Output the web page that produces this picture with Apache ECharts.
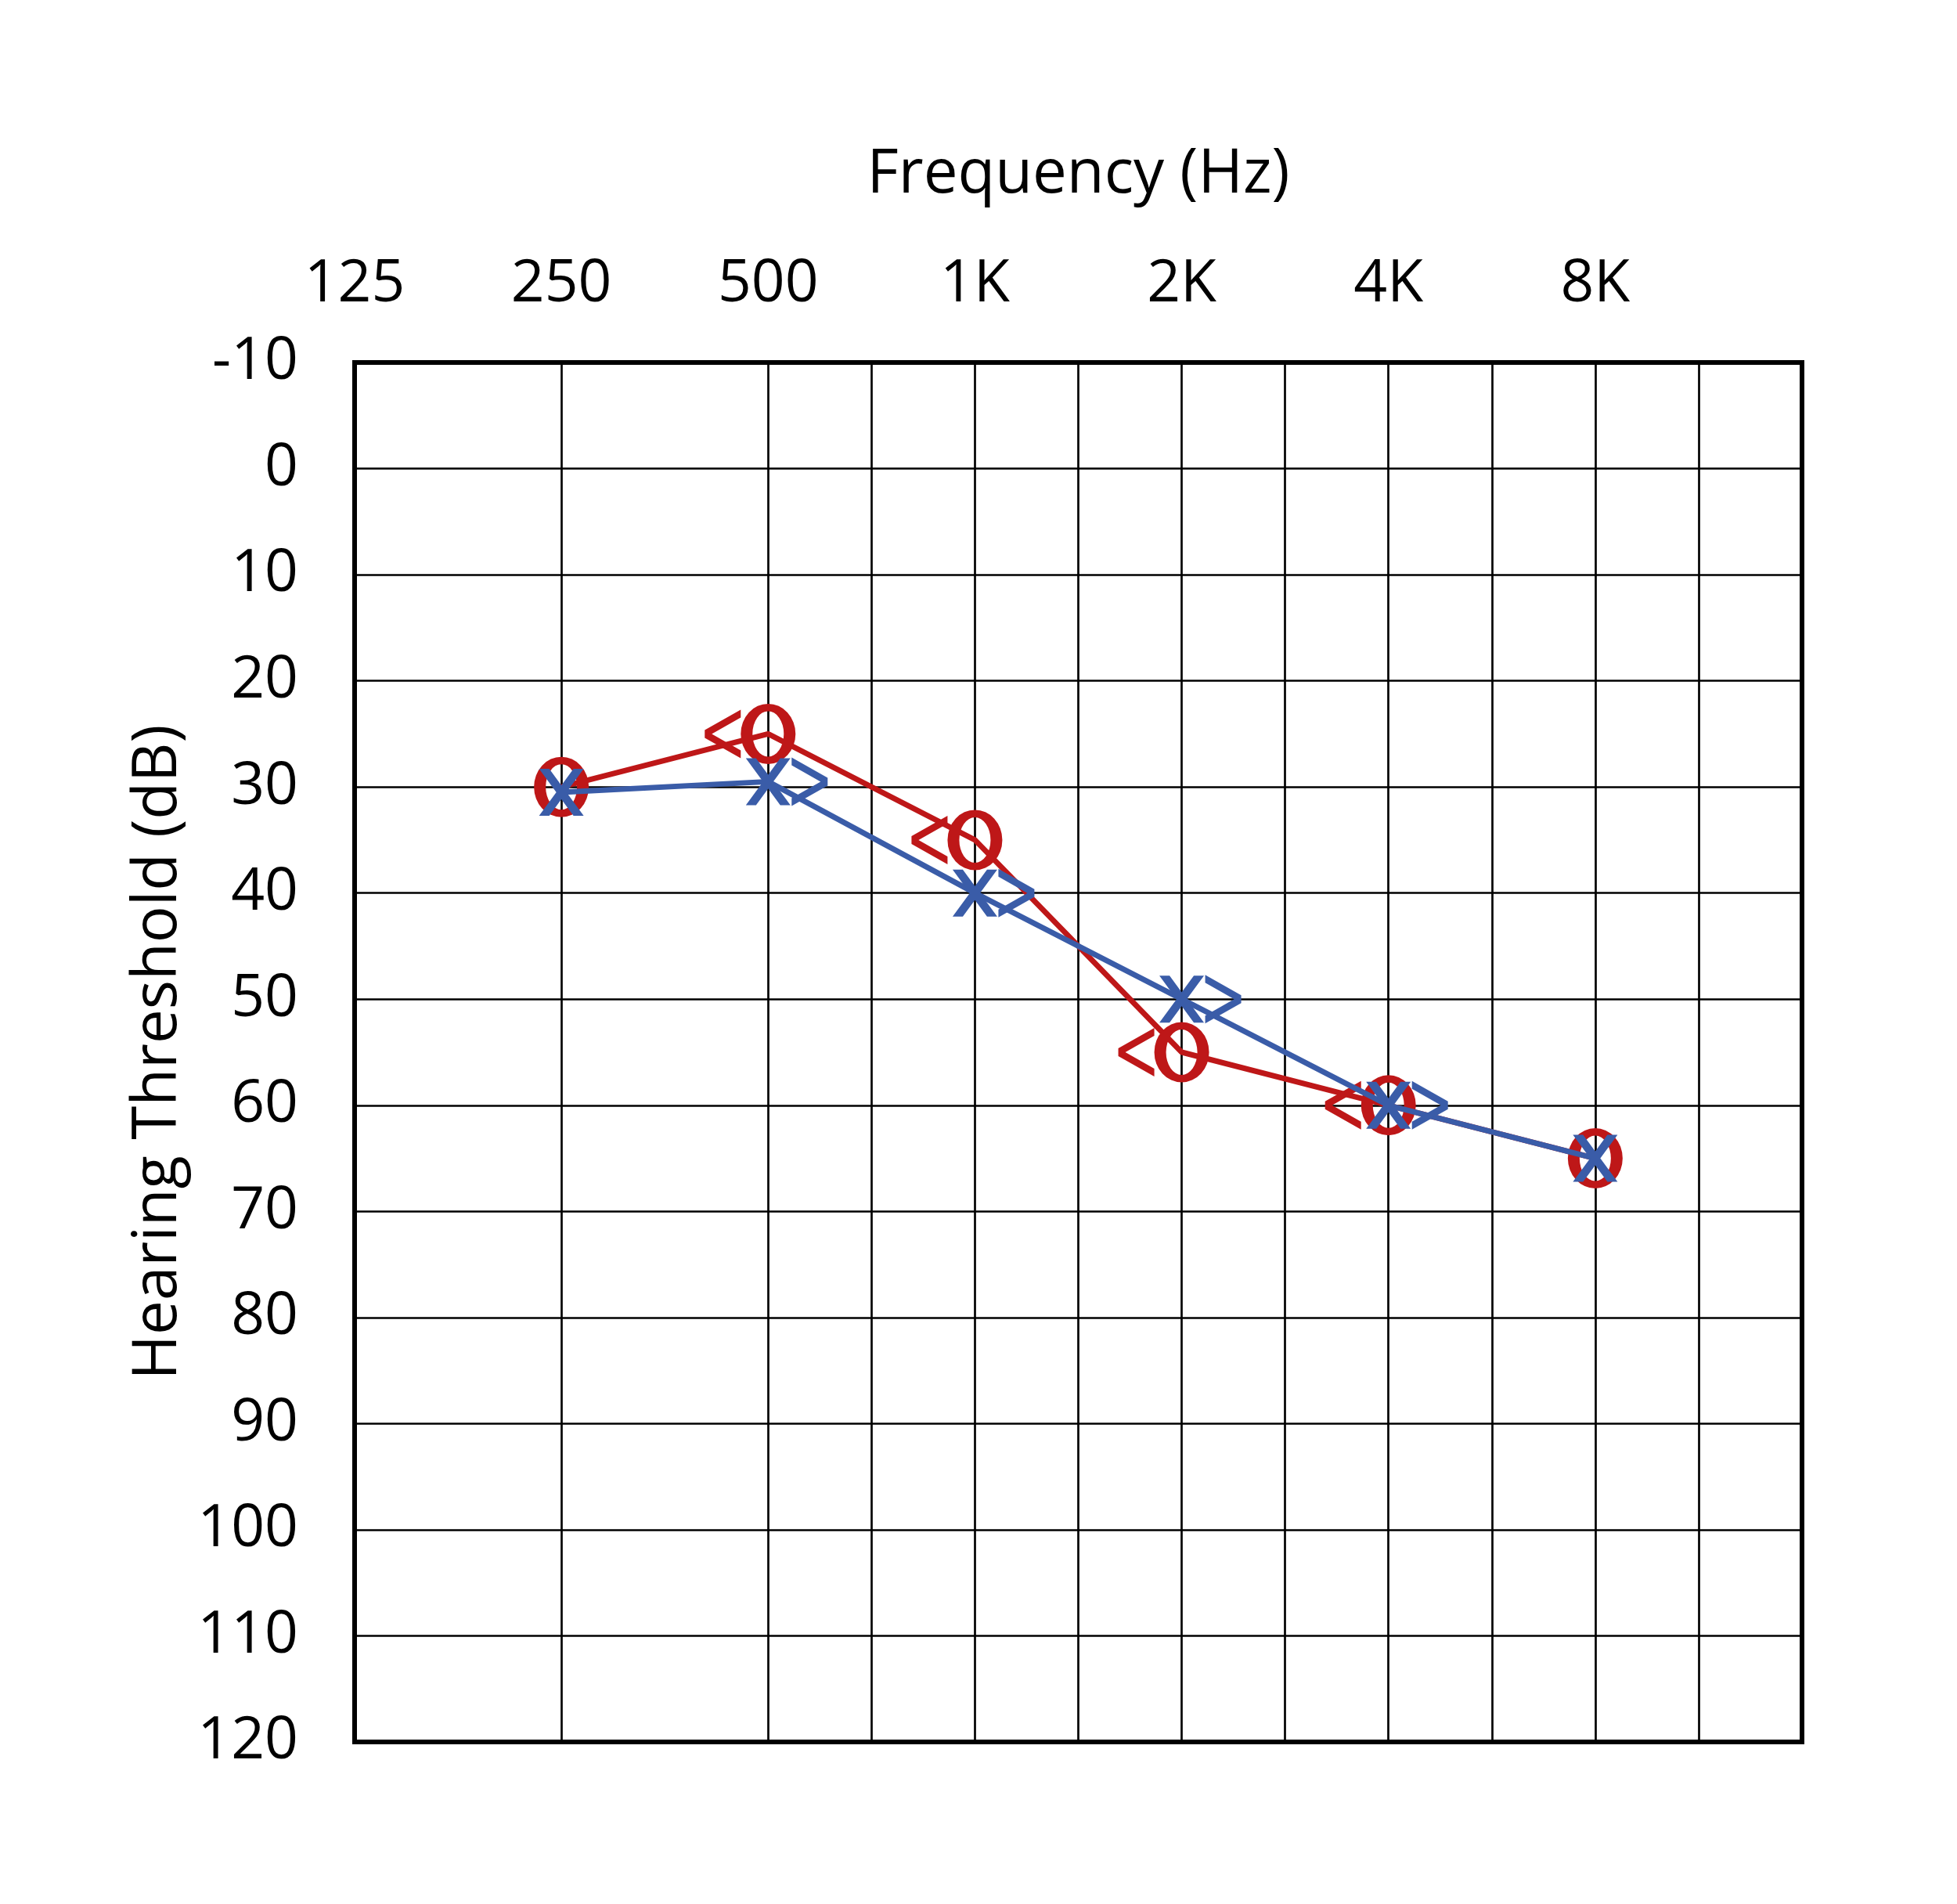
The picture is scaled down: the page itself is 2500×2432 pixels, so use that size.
<!DOCTYPE html>
<html>
<head>
<meta charset="utf-8">
<title>Audiogram</title>
<script src="https://cdn.jsdelivr.net/npm/echarts@6/dist/echarts.min.js"></script>
<style>
    html, body { margin: 0; padding: 0; background: #fff; }
    #plot { width: 2500px; height: 2432px; }
</style>
</head>
<body>
<div id="plot"></div>
<script>
// octave tick labels along the top, 125 Hz .. 8 kHz
const freqLabels = ['125', '250', '500', '1K', '2K', '4K', '8K'];

// air conduction (O right ear, X left ear)
const airFreqs = ['250', '500', '1K', '2K', '4K', '8K'];
const rightAir = [30, 25, 35, 55, 60, 65];
const leftAir = [30.5, 29.5, 40, 50, 60, 65];

// bone conduction (< right ear, > left ear)
const boneFreqs = ['500', '1K', '2K', '4K'];
const rightBone = [25, 35, 55, 60];
const leftBone = [29.5, 40, 50, 60];

const dbMin = -10;
const dbMax = 120;

const RED = '#BE1718';
const BLUE = '#3A5CA8';
const FONT = 'Open Sans';

// marker shapes, drawn around (0,0)
const ringO = 'path://M35 0 A35 38.5 0 1 1 -35 0 A35 38.5 0 1 1 35 0 Z ' +
    'M20 0 A20 29 0 1 0 -20 0 A20 29 0 1 0 20 0 Z';
const crossX = 'path://M-28.5 -30 L-15.5 -30 L28.5 30 L15.5 30 Z ' +
    'M15.5 -30 L28.5 -30 L-15.5 30 L-28.5 30 Z';
const chevLeft = 'path://M-35 -31 L-81 -5 L-81 5 L-35 31 L-35 21 L-72 0 L-35 -21 Z';
const chevRight = 'path://M30 -31 L76 -5 L76 5 L30 31 L30 21 L67 0 L30 -21 Z';

const toPoints = (freqs, vals) => freqs.map((f, i) => [freqLabels.indexOf(f), vals[i]]);

// half-octave lines only from 500 Hz up
const xLineColors = [];
for (let v = 0; v <= 7; v += 0.5) {
    xLineColors.push(v === 0.5 || v === 1.5 ? 'rgba(0,0,0,0)' : '#000');
}

const chart = echarts.init(document.getElementById('plot'));
chart.setOption({
    animation: false,
    backgroundColor: '#fff',
    grid: {
        left: 453,
        top: 463,
        right: 198,
        bottom: 207,
        show: true,
        borderColor: '#000',
        borderWidth: 6,
        backgroundColor: 'transparent'
    },
    xAxis: {
        type: 'value',
        position: 'top',
        min: 0,
        max: 7,
        interval: 0.5,
        name: 'Frequency (Hz)',
        nameLocation: 'middle',
        nameGap: 200,
        nameTextStyle: { fontFamily: FONT, fontSize: 78, color: '#000' },
        axisLine: { show: false },
        axisTick: { show: false },
        axisLabel: {
            margin: 62,
            fontFamily: FONT,
            fontSize: 75,
            color: '#000',
            formatter: (v) => (Number.isInteger(v) && freqLabels[v]) ? freqLabels[v] : ''
        },
        splitLine: { show: true, lineStyle: { color: xLineColors, width: 2.7 } }
    },
    yAxis: {
        type: 'value',
        inverse: true,
        min: dbMin,
        max: dbMax,
        interval: 10,
        name: 'Hearing Threshold (dB)',
        nameLocation: 'middle',
        nameGap: 192,
        nameTextStyle: { fontFamily: FONT, fontSize: 78, color: '#000' },
        axisLine: { show: false },
        axisTick: { show: false },
        axisLabel: { margin: 72, fontFamily: FONT, fontSize: 75, color: '#000' },
        splitLine: { show: true, lineStyle: { color: '#000', width: 2.7 } }
    },
    series: [
        {
            name: 'Right ear',
            type: 'line',
            data: toPoints(airFreqs, rightAir),
            symbol: ringO,
            symbolSize: [70, 77],
            symbolKeepAspect: false,
            lineStyle: { color: RED, width: 7 },
            itemStyle: { color: RED, borderWidth: 0 },
            z: 3
        },
        {
            name: 'Right ear bone',
            type: 'scatter',
            data: toPoints(boneFreqs, rightBone),
            symbol: chevLeft,
            symbolSize: [46, 62],
            symbolKeepAspect: false,
            symbolOffset: [-58, 0],
            itemStyle: { color: RED, borderWidth: 0, opacity: 1 },
            z: 3
        },
        {
            name: 'Left ear',
            type: 'line',
            data: toPoints(airFreqs, leftAir),
            symbol: crossX,
            symbolSize: [57, 60],
            symbolKeepAspect: false,
            lineStyle: { color: BLUE, width: 7 },
            itemStyle: { color: BLUE, borderWidth: 0 },
            z: 4
        },
        {
            name: 'Left ear bone',
            type: 'scatter',
            data: toPoints(boneFreqs, leftBone),
            symbol: chevRight,
            symbolSize: [46, 62],
            symbolKeepAspect: false,
            symbolOffset: [53, 0],
            itemStyle: { color: BLUE, borderWidth: 0, opacity: 1 },
            z: 4
        }
    ]
});
</script>
</body>
</html>
